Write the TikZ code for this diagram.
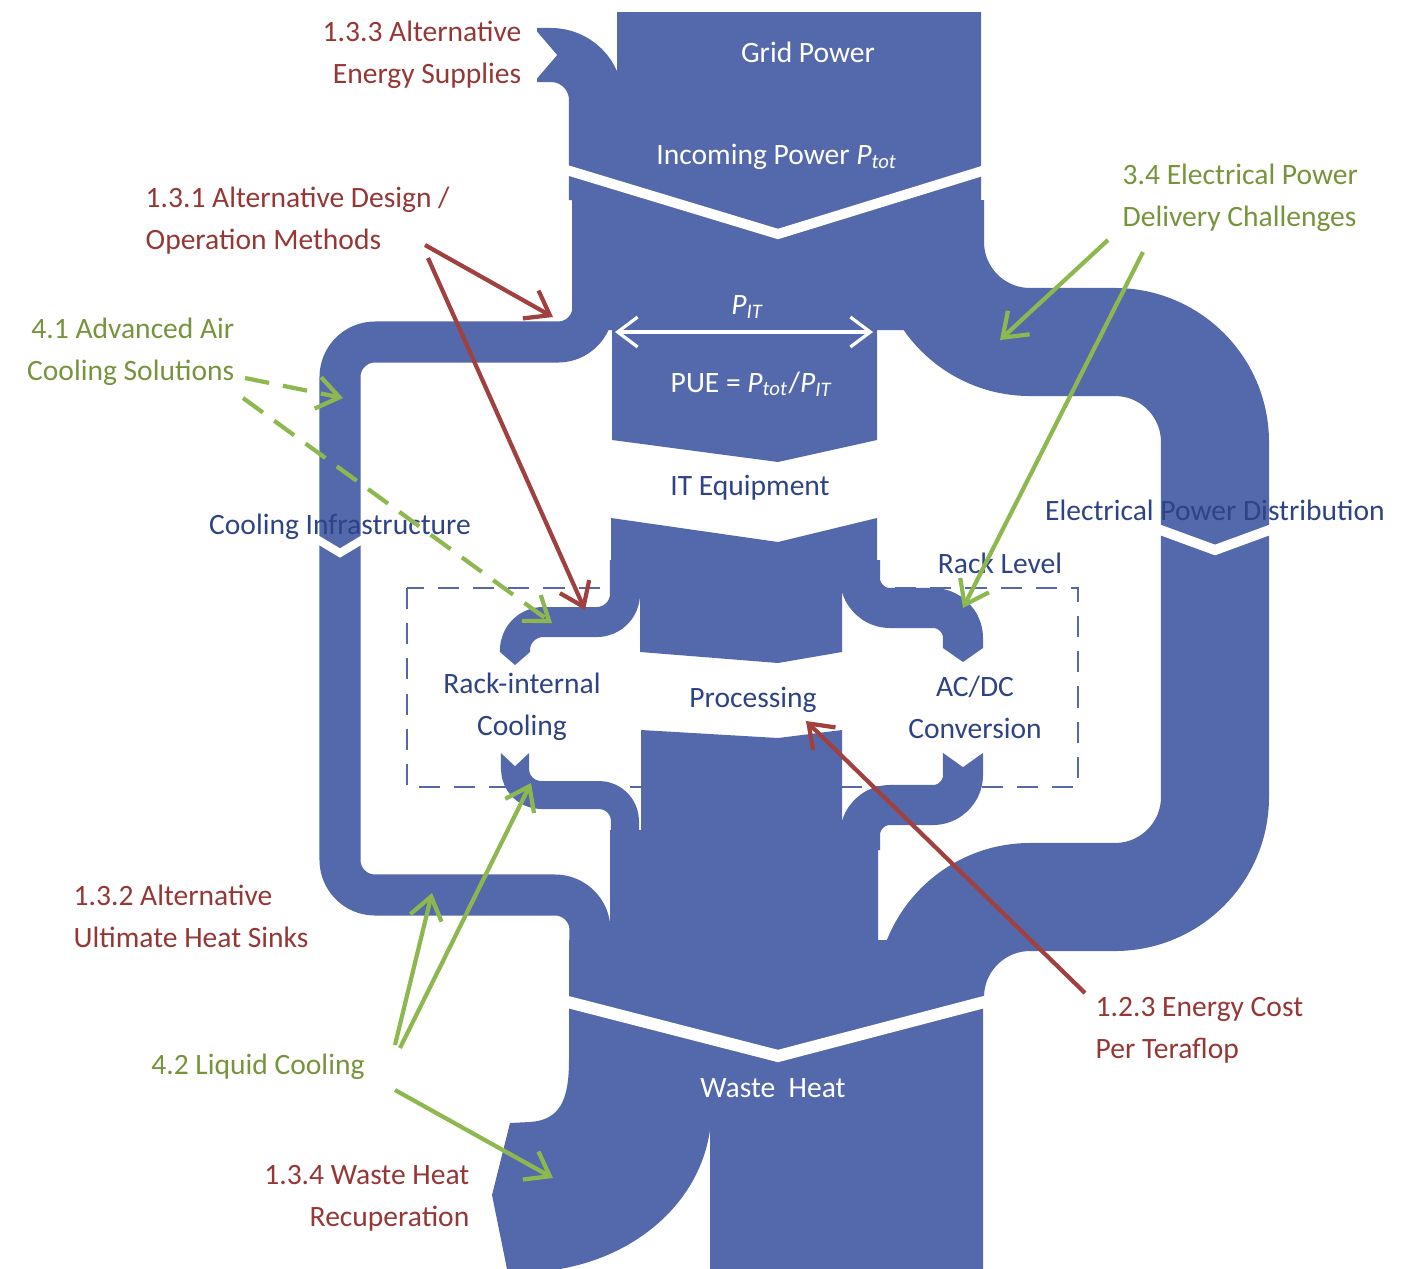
\documentclass[tikz,border=0pt]{standalone}
\usepackage{fontspec}
\setmainfont{Carlito}
\usetikzlibrary{arrows.meta}
\definecolor{flow}{HTML}{5469AB}
\definecolor{bluetext}{HTML}{2E4385}
\definecolor{redtext}{HTML}{953735}
\definecolor{greentext}{HTML}{77933C}
\definecolor{redline}{HTML}{A0403F}
\definecolor{greenline}{HTML}{8DB84F}
\newcommand\Pv[1]{\textit{P}\textsubscript{\textit{#1}}}

\begin{document}
\begin{tikzpicture}[x=0.01cm, y=-0.01cm, font=\fontsize{8.4}{12}\selectfont,
    pipe/.style={draw=flow, line cap=butt, line join=round},
    gap/.style={draw=white, line join=miter},
    wlab/.style={text=white, inner sep=0},
    blab/.style={text=bluetext, inner sep=0},
    rlab/.style={text=redtext, inner sep=0},
    glab/.style={text=greentext, inner sep=0},
    redarr/.style={draw=redline, line width=1.2pt, -{Straight Barb[length=0.22cm,width=0.32cm]}},
    greenarr/.style={draw=greenline, line width=1.2pt, -{Straight Barb[length=0.22cm,width=0.32cm]}}]
  \useasboundingbox (0,0) rectangle (1417,1269);

  % rack level box
  \draw[flow, line width=0.8pt, dash pattern=on 6pt off 4pt] (407,588) rectangle (1078,787);

  % big pipes
  \draw[pipe, line width=0.54cm, rounded corners=0.45cm] (537,55) -- (596,55) -- (596,200);
  \fill[white] (533,27) -- (557,55) -- (533,83) -- cycle;
  \draw[pipe, line width=0.41cm, rounded corners=0.35cm] (593,200) -- (593,342) -- (340,342) -- (340,895) -- (590,895) -- (590,960);
  \draw[pipe, line width=1.08cm, rounded corners=1cm] (930,200) -- (930,342) -- (1215,342) -- (1215,897) -- (930,897) -- (930,960);

  % trunk blocks
  \fill[flow] (617,12) -- (981,12) -- (981,330) -- (877,330) -- (877,440) -- (778,462)
    -- (612,440) -- (612,330) -- (572,330) -- (572,100) -- (617,100) -- cycle;
  \fill[flow] (611,518) -- (778,542) -- (877,518) -- (877,590) -- (842,590) -- (842,652)
    -- (778,663) -- (640,652) -- (640,590) -- (611,590) -- cycle;
  \fill[flow] (641,730) -- (778,738) -- (842,730) -- (842,830) -- (878,830) -- (878,950)
    -- (610,950) -- (610,830) -- (641,830) -- cycle;
  \fill[flow] (569,940) -- (983,940) -- (983,1269) -- (710,1269) -- (710,1130)
    .. controls (700,1200) and (640,1255) .. (560,1269) -- (507,1269) -- (492,1195)
    -- (510,1123) -- (530,1122) .. controls (560,1120) and (569,1100) .. (569,1060) -- cycle;

  % rack pipes
  \draw[pipe, line width=0.30cm, rounded corners=0.28cm] (625,560) -- (625,622) -- (515,622) -- (515,652);
  \fill[flow] (500,652) -- (530,652) -- (515,665) -- cycle;
  \draw[pipe, line width=0.40cm, rounded corners=0.3cm] (860,560) -- (860,608) -- (963,608) -- (963,648);
  \fill[flow] (943,648) -- (983,648) -- (963,662) -- cycle;
  \draw[pipe, line width=0.28cm, rounded corners=0.26cm] (515,753) -- (515,795) -- (625,795) -- (625,850);
  \fill[white] (500,752) -- (530,752) -- (515,766) -- cycle;
  \draw[pipe, line width=0.40cm, rounded corners=0.3cm] (963,753) -- (963,805) -- (860,805) -- (860,850);
  \fill[white] (942,752) -- (984,752) -- (963,767) -- cycle;

  % chevron gaps
  \draw[gap, line width=0.1cm] (560,168) -- (778,234) -- (992,168);
  \draw[gap, line width=0.12cm] (560,1000) -- (778,1056) -- (992,1000);
  \draw[gap, line width=0.08cm] (315,538) -- (340,553) -- (365,538);
  \draw[gap, line width=0.1cm] (1155,528) -- (1215,550) -- (1275,528);

  % P_IT span
  \coordinate (pitl) at (615,332);
  \coordinate (pitr) at (873,332);
  \draw[white, line width=0.9pt, {Straight Barb[length=0.2cm,width=0.3cm]}-{Straight Barb[length=0.2cm,width=0.3cm]}] (pitl) -- (pitr);

  % labels on the flow
  \node[wlab] (grid) at (808,52) {Grid Power};
  \node[wlab] (incoming) at (777,157) {Incoming Power \Pv{tot}};
  \node[wlab] (pit) at (748,307) {\Pv{IT}};
  \node[wlab] (pue) at (752,384) {PUE = \Pv{tot}/\Pv{IT}};
  \node[wlab] (waste) at (773,1088) {Waste\ \ Heat};
  \node[blab] (itequip) at (750,488) {IT Equipment};
  \node[blab] (coolinf) at (340,527) {Cooling Infrastructure};
  \node[blab] (elecdist) at (1215,510) {Electrical Power Distribution};
  \node[blab] (racklvl) at (1000,563) {Rack Level};
  \node[blab, align=center] (rackcool) at (522,707) {Rack-internal\\Cooling};
  \node[blab] (proc) at (753,700) {Processing};
  \node[blab, align=center] (acdc) at (975,707) {AC/DC\\Conversion};

  % topic labels
  \node[rlab, anchor=east, align=right] (altsup) at (522,55) {1.3.3 Alternative\\Energy Supplies};
  \node[rlab, anchor=west, align=left] (altdes) at (145,221) {1.3.1 Alternative Design /\\Operation Methods};
  \node[glab, anchor=west, align=left] (epdc) at (1122,198) {3.4 Electrical Power\\Delivery Challenges};
  \node[glab, anchor=east, align=right] (aircool) at (235,352) {4.1 Advanced Air\\Cooling Solutions};
  \node[rlab, anchor=west, align=left] (sinks) at (73,916) {1.3.2 Alternative\\Ultimate Heat Sinks};
  \node[glab] (liquid) at (258,1067) {4.2 Liquid Cooling};
  \node[rlab, anchor=west, align=left] (cost) at (1095,1030) {1.2.3 Energy Cost\\Per Teraflop};
  \node[rlab, anchor=east, align=right] (recup) at (470,1198) {1.3.4 Waste Heat\\Recuperation};

  % arrow ends
  \coordinate (a1s) at (425,245);  \coordinate (a1t) at (553,317);
  \coordinate (a2s) at (428,258);  \coordinate (a2t) at (585,610);
  \coordinate (b1s) at (1108,240); \coordinate (b1t) at (1000,340);
  \coordinate (b2s) at (1143,252); \coordinate (b2t) at (963,608);
  \coordinate (c1s) at (245,378);  \coordinate (c1t) at (343,398);
  \coordinate (c2s) at (243,398);  \coordinate (c2t) at (552,623);
  \coordinate (d1s) at (395,1045); \coordinate (d1t) at (432,893);
  \coordinate (d2s) at (400,1048); \coordinate (d2t) at (531,783);
  \coordinate (d3s) at (395,1090); \coordinate (d3t) at (553,1178);
  \coordinate (e1s) at (1085,993); \coordinate (e1t) at (806,721);

  % arrows
  \draw[redarr] (a1s) -- (a1t);
  \draw[redarr] (a2s) -- (a2t);
  \draw[greenarr] (b1s) -- (b1t);
  \draw[greenarr] (b2s) -- (b2t);
  \draw[greenarr, dash pattern=on 7pt off 4pt] (c1s) -- (c1t);
  \draw[greenarr, dash pattern=on 7pt off 4pt] (c2s) -- (c2t);
  \draw[greenarr] (d1s) -- (d1t);
  \draw[greenarr] (d2s) -- (d2t);
  \draw[greenarr] (d3s) -- (d3t);
  \draw[redarr] (e1s) -- (e1t);
\end{tikzpicture}
\end{document}
